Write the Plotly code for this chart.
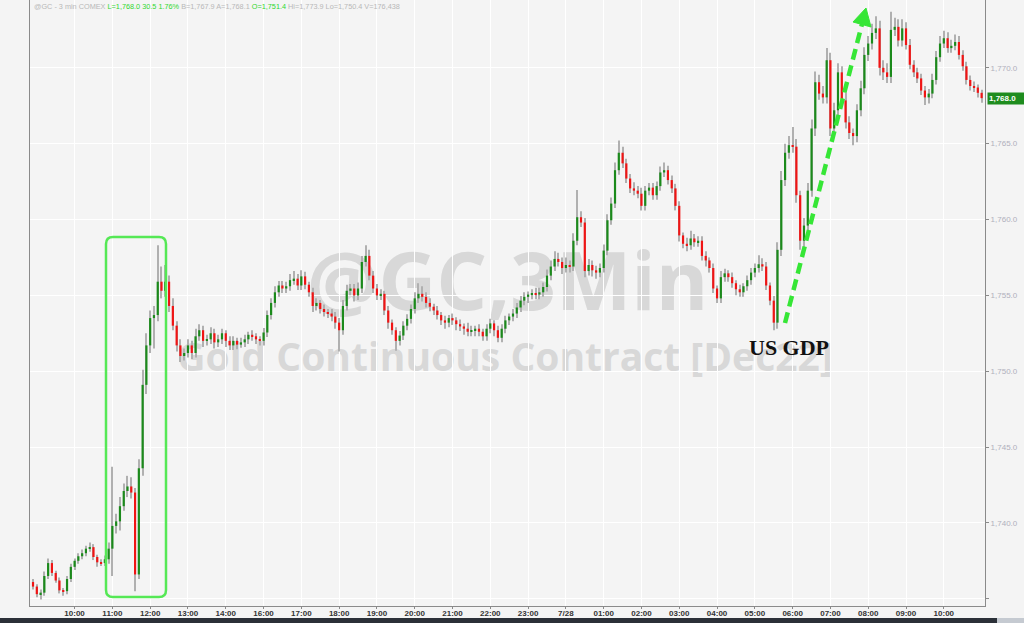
import plotly.graph_objects as go

# ---------------- data ----------------
hour_labels = ["10:00", "11:00", "12:00", "13:00", "14:00", "16:00", "17:00", "18:00",
               "19:00", "20:00", "21:00", "22:00", "23:00", "7/28", "01:00", "02:00",
               "03:00", "04:00", "05:00", "06:00", "07:00", "08:00", "09:00", "10:00"]
hour_bar_index = [11, 21, 31, 41, 51, 61, 71, 81, 91, 101, 111, 121, 131, 141, 151, 161,
                  171, 181, 191, 201, 211, 221, 231, 241]

first_open = 1736.1
closes = [
    1735.8, 1735.3, 1735.4, 1736.5, 1737.35, 1736.7, 1736.2, 1735.55, 1735.5, 1736.3,
    1737.1, 1737.5, 1737.8, 1738.0, 1738.3, 1738.4, 1737.75, 1737.4, 1737.35, 1737.6,
    1738.3, 1739.8, 1740.1, 1741.1, 1742.1, 1742.4, 1742.0, 1736.6, 1743.6, 1749.1,
    1751.7, 1753.5, 1753.7, 1755.9, 1755.3, 1755.9, 1754.3, 1753.0, 1751.7, 1751.0,
    1751.2, 1751.7, 1751.2, 1752.3, 1752.7, 1752.0, 1752.1, 1752.5, 1751.9, 1752.1,
    1752.5, 1752.0, 1751.7, 1752.0, 1751.75, 1751.9, 1752.1, 1752.4, 1752.3, 1752.1,
    1752.0, 1752.55, 1753.7, 1754.5, 1755.2, 1755.65, 1755.45, 1755.6, 1756.0, 1756.1,
    1755.65, 1756.25, 1755.7, 1755.2, 1754.3, 1754.5, 1754.1, 1753.9, 1753.8, 1753.6,
    1753.2, 1752.7, 1754.3, 1755.3, 1755.45, 1755.0, 1755.45, 1757.2, 1757.6, 1756.3,
    1755.45, 1755.0, 1755.1, 1754.0, 1753.2, 1752.7, 1752.0, 1752.35, 1753.0, 1753.45,
    1754.1, 1754.8, 1755.1, 1754.9, 1754.5, 1754.25, 1754.0, 1753.7, 1753.35, 1753.2,
    1753.5, 1753.35, 1753.1, 1752.95, 1752.8, 1752.6, 1752.7, 1752.8, 1752.6, 1752.3,
    1752.8, 1753.15, 1752.7, 1752.2, 1752.8, 1753.35, 1753.6, 1753.8, 1754.2, 1754.65,
    1754.9, 1755.05, 1755.1, 1755.05, 1755.2, 1755.55, 1756.3, 1756.9, 1757.4, 1757.2,
    1756.8, 1757.0, 1756.9, 1758.6, 1760.15, 1759.8, 1756.6, 1757.0, 1756.65, 1756.5,
    1756.8, 1757.95, 1759.95, 1761.05, 1763.25, 1764.4, 1763.7, 1762.7, 1762.05, 1761.9,
    1761.7, 1760.9, 1761.9, 1762.1, 1761.6, 1762.2, 1763.1, 1763.25, 1762.6, 1762.05,
    1760.9, 1758.95, 1758.4, 1758.3, 1758.75, 1758.5, 1758.6, 1757.6, 1757.3, 1756.8,
    1755.45, 1754.8, 1756.2, 1756.45, 1756.2, 1755.8, 1755.4, 1755.2, 1755.6, 1756.0,
    1756.5, 1756.8, 1757.05, 1756.9, 1755.65, 1754.65, 1753.2, 1758.0, 1762.6, 1764.4,
    1764.9, 1764.8, 1761.6, 1758.6, 1759.6, 1761.9, 1766.0, 1769.05, 1768.3, 1768.05,
    1770.5, 1766.0, 1767.2, 1769.7, 1767.85, 1766.4, 1765.7, 1765.5, 1767.2, 1768.65,
    1770.85, 1771.6, 1772.3, 1772.6, 1770.0, 1769.7, 1769.4, 1772.5, 1772.7, 1771.8,
    1772.6, 1771.5, 1770.2, 1769.7, 1769.3, 1768.5, 1768.05, 1768.3, 1769.2, 1770.7,
    1771.6, 1771.95, 1771.3, 1771.45, 1771.7, 1770.85, 1770.1, 1769.2, 1768.8, 1768.7,
    1768.35, 1768.0,
]
# wick extension above the body top / below the body bottom
hi_ext = [
    0.2, 0.15, 0.2, 0.3, 0.3, 0.2, 0.15, 0.2, 0.15, 0.2,
    0.2, 0.15, 0.2, 0.25, 0.2, 0.3, 0.2, 0.15, 0.2, 0.25,
    0.4, 3.9, 0.5, 0.6, 0.5, 0.7, 0.6, 0.3, 0.6, 1.0,
    0.8, 0.5, 0.6, 2.4, 1.0, 1.1, 0.4, 0.5, 0.3, 0.4,
    0.3, 0.4, 0.3, 0.5, 0.4, 0.3, 0.3, 0.4, 0.3, 0.3,
    0.3, 0.2, 0.3, 0.3, 0.2, 0.3, 0.3, 0.2, 0.3, 0.2,
    0.2, 0.3, 0.3, 0.3, 0.4, 0.3, 0.3, 0.3, 0.4, 0.5,
    0.3, 0.4, 0.3, 0.2, 0.3, 0.3, 0.2, 0.3, 0.2, 0.3,
    0.3, 0.3, 0.4, 0.4, 0.3, 0.3, 0.4, 0.4, 0.7, 0.4,
    0.3, 0.3, 0.3, 0.2, 0.3, 0.2, 0.2, 0.3, 0.3, 0.3,
    0.3, 0.4, 0.7, 0.5, 0.3, 0.3, 0.2, 0.3, 0.2, 0.3,
    0.2, 0.3, 0.2, 0.3, 0.2, 0.4, 0.3, 0.2, 0.3, 0.2,
    0.3, 0.3, 0.2, 0.3, 0.3, 0.3, 0.2, 0.3, 0.3, 0.3,
    0.3, 0.2, 0.3, 0.4, 0.3, 0.3, 0.4, 0.4, 0.5, 0.4,
    0.3, 0.5, 0.3, 0.5, 1.8, 0.4, 0.3, 0.4, 0.3, 0.3,
    0.3, 0.4, 0.4, 0.4, 0.5, 0.8, 0.4, 0.3, 0.3, 0.4,
    0.3, 0.4, 0.3, 0.3, 0.3, 0.3, 0.4, 0.5, 0.3, 0.3,
    0.3, 0.3, 0.2, 0.4, 0.5, 0.3, 0.3, 0.3, 0.3, 0.2,
    0.3, 0.2, 0.4, 0.3, 0.2, 0.3, 0.2, 0.3, 0.2, 0.3,
    0.3, 0.3, 0.6, 0.4, 0.3, 0.2, 0.3, 0.5, 0.6, 0.6,
    0.6, 1.2, 0.5, 0.3, 0.5, 0.5, 0.6, 0.7, 0.5, 0.5,
    0.8, 0.5, 0.5, 0.6, 0.4, 0.5, 0.4, 0.3, 0.4, 0.5,
    0.5, 0.5, 0.6, 0.8, 0.5, 0.5, 0.6, 1.2, 0.6, 0.5,
    0.6, 0.4, 0.4, 0.3, 0.3, 0.3, 0.3, 0.3, 0.4, 0.4,
    0.5, 0.5, 0.4, 0.4, 0.5, 0.4, 0.3, 0.3, 0.3, 0.3,
    0.2, 0.2,
]
lo_ext = [
    0.2, 0.2, 0.35, 0.2, 0.2, 0.2, 0.15, 0.2, 0.3, 0.2,
    0.2, 0.2, 0.2, 0.2, 0.2, 0.2, 0.2, 0.3, 0.2, 0.2,
    0.3, 1.8, 0.5, 0.6, 0.3, 0.4, 0.4, 1.1, 0.3, 0.5,
    0.6, 0.5, 2.0, 0.4, 0.5, 0.4, 0.4, 0.3, 0.4, 0.4,
    0.3, 0.3, 0.4, 0.3, 0.3, 0.4, 0.3, 0.3, 0.4, 0.3,
    0.3, 0.4, 0.3, 0.3, 0.3, 0.2, 0.3, 0.3, 0.3, 0.3,
    0.3, 0.3, 0.3, 0.3, 0.3, 0.3, 0.3, 0.3, 0.3, 0.3,
    0.3, 0.3, 0.3, 0.3, 0.4, 0.3, 0.3, 0.3, 0.3, 0.3,
    0.4, 1.4, 0.3, 0.3, 0.3, 0.4, 0.3, 0.3, 0.3, 0.3,
    0.3, 0.3, 0.3, 0.3, 0.4, 0.3, 0.65, 0.3, 0.3, 0.3,
    0.3, 0.3, 0.3, 0.3, 0.3, 0.3, 0.3, 0.3, 0.3, 0.4,
    0.3, 0.3, 0.4, 0.3, 0.4, 0.3, 0.3, 0.4, 0.3, 0.3,
    0.3, 0.3, 0.4, 0.3, 0.3, 0.3, 0.3, 0.3, 0.3, 0.3,
    0.3, 0.4, 0.3, 0.3, 0.3, 0.3, 0.3, 0.3, 0.3, 0.3,
    0.4, 0.3, 0.4, 0.3, 0.3, 0.3, 0.4, 0.3, 0.4, 0.4,
    0.3, 0.3, 0.3, 0.3, 0.3, 0.3, 0.3, 0.3, 0.3, 0.3,
    0.3, 0.3, 0.3, 0.3, 0.3, 0.3, 0.3, 0.3, 0.3, 0.3,
    0.3, 0.4, 0.3, 0.4, 0.3, 0.3, 0.3, 0.3, 0.4, 0.3,
    0.3, 0.3, 0.3, 0.3, 0.3, 0.3, 0.4, 0.3, 0.3, 0.3,
    0.3, 0.3, 0.3, 0.3, 0.3, 0.3, 0.5, 0.4, 0.4, 0.4,
    0.4, 0.4, 0.5, 0.6, 0.5, 0.4, 0.4, 0.5, 0.4, 0.4,
    0.4, 0.5, 0.4, 0.4, 0.4, 0.4, 0.4, 0.6, 0.4, 0.4,
    0.4, 0.4, 0.4, 0.4, 0.5, 0.5, 0.4, 0.4, 0.4, 0.4,
    0.4, 0.3, 0.3, 0.3, 0.3, 0.3, 0.5, 0.4, 0.3, 0.3,
    0.3, 0.3, 0.3, 0.3, 0.3, 0.3, 0.3, 0.3, 0.3, 0.3,
    0.3, 0.3,
]
y_ticks = [1735, 1740, 1745, 1750, 1755, 1760, 1765, 1770]
y_ticktext = ["", "1,740.0", "1,745.0", "1,750.0", "1,755.0", "1,760.0", "1,765.0", "1,770.0"]
last_price = 1768.0
header_gray1 = "@GC - 3 min COMEX "
header_green1 = "L=1,768.0 30.5 1.76%"
header_gray2 = " B=1,767.9 A=1,768.1 "
header_green2 = "O=1,751.4"
header_gray3 = " Hi=1,773.9 Lo=1,750.4 V=176,438"

# ---------------- derived OHLC ----------------
n = len(closes)
idx = list(range(n))
opens = [first_open] + closes[:-1]
highs = [max(o, c) + h for o, c, h in zip(opens, closes, hi_ext)]
lows = [min(o, c) - l for o, c, l in zip(opens, closes, lo_ext)]

GREEN = "#1b8a1b"
RED = "#f01414"
MINB = 0.07

up_x, up_b, up_h, dn_x, dn_b, dn_h = [], [], [], [], [], []
for i, o, c in zip(idx, opens, closes):
    b = min(o, c)
    h = max(abs(c - o), MINB)
    if c >= o:
        up_x.append(i); up_b.append(b); up_h.append(h)
    else:
        dn_x.append(i); dn_b.append(b); dn_h.append(h)

fig = go.Figure()
fig.add_trace(go.Bar(x=idx, base=lows, y=[h - l for h, l in zip(highs, lows)],
                     width=0.28, marker=dict(color="#b0b0b0", line=dict(width=0)),
                     hoverinfo="skip", showlegend=False))
fig.add_trace(go.Bar(x=up_x, base=up_b, y=up_h, width=0.58,
                     marker=dict(color=GREEN, line=dict(width=0)), showlegend=False))
fig.add_trace(go.Bar(x=dn_x, base=dn_b, y=dn_h, width=0.58,
                     marker=dict(color=RED, line=dict(width=0)), showlegend=False))

# ---------------- layout geometry (pixels) ----------------
W, H = 1024, 623
PL, PR, PT, PB = 30, 985, 0, 606


def pxx(px):
    return (px - PL) / (PR - PL)


def pxy(py):
    return (PB - py) / (PB - PT)


shapes = []
# watermark text (below traces)
shapes.append(dict(type="rect", xref="paper", yref="paper", layer="below",
                   x0=pxx(290), x1=pxx(725), y0=pxy(328), y1=pxy(240),
                   line=dict(width=0), fillcolor="rgba(0,0,0,0)",
                   label=dict(text="@GC,3Min", textposition="middle center",
                              font=dict(family="Open Sans", size=80, color="#d8d8d8", weight="bold"))))
shapes.append(dict(type="rect", xref="paper", yref="paper", layer="below",
                   x0=pxx(160), x1=pxx(850), y0=pxy(384), y1=pxy(332),
                   line=dict(width=0), fillcolor="rgba(0,0,0,0)",
                   label=dict(text="Gold Continuous Contract [Dec22]", textposition="middle center",
                              font=dict(family="Open Sans", size=39, color="#d8d8d8", weight="bold"))))

# rounded green box
rx, ry = 7 / (PR - PL), 7 / (PB - PT)
x0, x1 = pxx(106), pxx(166)
y0, y1 = pxy(597), pxy(237)
box_path = (f"M {x0+rx},{y0} L {x1-rx},{y0} Q {x1},{y0} {x1},{y0+ry} L {x1},{y1-ry} "
            f"Q {x1},{y1} {x1-rx},{y1} L {x0+rx},{y1} Q {x0},{y1} {x0},{y1-ry} "
            f"L {x0},{y0+ry} Q {x0},{y0} {x0+rx},{y0} Z")
shapes.append(dict(type="path", xref="paper", yref="paper", path=box_path,
                   line=dict(color="#55e855", width=2.5)))

# dashed arrow
shapes.append(dict(type="line", xref="paper", yref="paper",
                   x0=pxx(785), y0=pxy(323), x1=pxx(862), y1=pxy(24),
                   line=dict(color="#36e636", width=4.5, dash="11px,6px")))
tri = (f"M {pxx(866)},{pxy(8)} L {pxx(871)},{pxy(27)} L {pxx(853)},{pxy(22)} Z")
shapes.append(dict(type="path", xref="paper", yref="paper", path=tri,
                   fillcolor="#36e636", line=dict(color="#36e636", width=1)))

# bottom dark strip
shapes.append(dict(type="rect", xref="paper", yref="paper", x0=pxx(0), x1=pxx(997),
                   y0=pxy(623), y1=pxy(618), fillcolor="#2b3038", line=dict(width=0)))
shapes.append(dict(type="rect", xref="paper", yref="paper", x0=pxx(997), x1=pxx(1024),
                   y0=pxy(623), y1=pxy(618), fillcolor="#c5cad1", line=dict(width=0)))

header = (f"<span style='color:#b8b8b8'>{header_gray1}</span>"
          f"<span style='color:#2fd82f'>{header_green1}</span>"
          f"<span style='color:#b8b8b8'>{header_gray2}</span>"
          f"<span style='color:#2fd82f'>{header_green2}</span>"
          f"<span style='color:#b8b8b8'>{header_gray3}</span>")

annotations = [
    dict(xref="paper", yref="paper", x=pxx(32), y=pxy(6), xanchor="left", yanchor="middle",
         text=header, showarrow=False, font=dict(family="Liberation Sans", size=7.3)),
    dict(xref="paper", yref="paper", x=pxx(789), y=pxy(347), xanchor="center", yanchor="middle",
         text="US GDP", showarrow=False,
         font=dict(family="Liberation Serif", size=22, color="#111111", weight="bold")),
    dict(xref="paper", yref="y", x=1, y=last_price, xanchor="left", yanchor="middle", xshift=2,
         text=f"{last_price:,.1f}", showarrow=False, bgcolor="#1e8c1e", borderpad=1,
         width=34, align="left",
         font=dict(family="Liberation Sans", size=8, color="#ffffff", weight="bold")),
]

fig.update_layout(
    width=W, height=H, autosize=False,
    margin=dict(l=PL, r=W - PR, t=PT, b=H - PB, pad=0),
    paper_bgcolor="#f4f4f4", plot_bgcolor="#f4f4f4",
    barmode="overlay", showlegend=False,
    shapes=shapes, annotations=annotations,
    xaxis=dict(range=[-0.8, 251.9], tickmode="array", tickvals=hour_bar_index,
               ticktext=hour_labels, showgrid=True, gridcolor="#ffffff", gridwidth=1,
               zeroline=False, showline=True, linecolor="#8a8a8a", linewidth=1,
               ticks="outside", ticklen=2, tickcolor="#8a8a8a", ticklabelstandoff=-3,
               tickfont=dict(family="Liberation Sans", size=8, color="#333333", weight="bold")),
    yaxis=dict(range=[1734.52, 1774.47], side="right", tickmode="array", tickvals=y_ticks,
               ticktext=y_ticktext, showgrid=True, gridcolor="#ffffff", gridwidth=1,
               zeroline=False, showline=True, mirror=True, linecolor="#8a8a8a", linewidth=1,
               ticks="outside", ticklen=3, tickcolor="#8a8a8a",
               tickfont=dict(family="Liberation Sans", size=8, color="#b0b0bc")),
)

fig.write_html("out.html", config={"displayModeBar": False},
               post_script="document.body.style.margin='0';document.body.style.overflow='hidden';")
